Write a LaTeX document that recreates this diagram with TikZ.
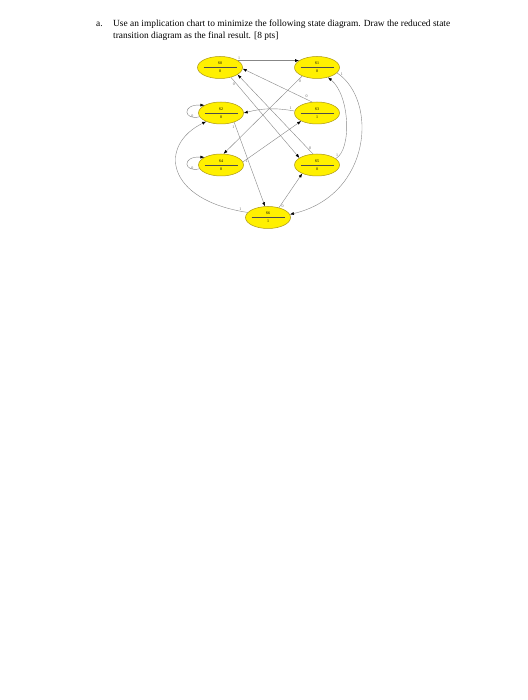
\documentclass[tikz,border=0pt]{standalone}
\usepackage{fontspec}
\setmainfont{Liberation Serif}
\usetikzlibrary{shapes.geometric,arrows.meta}
\definecolor{stfill}{RGB}{255,240,0}
\definecolor{stborder}{RGB}{170,150,20}
\definecolor{edgegray}{RGB}{135,135,135}
\begin{document}
\begin{tikzpicture}[x=1pt,y=-1pt,
  state/.style={ellipse, draw=stborder, line width=0.5pt, fill=stfill,
    minimum width=45pt, minimum height=22pt, inner sep=0pt, align=center,
    font=\fontsize{4}{8}\selectfont,
    path picture={\draw[line width=0.4pt, black!70]
      ([xshift=6pt]path picture bounding box.west) --
      ([xshift=-6pt]path picture bounding box.east);}},
  trans/.style={draw=edgegray, line width=0.4pt,
    -{Latex[length=4pt,width=3pt,color=black]}},
  lbl/.style={font=\fontsize{4}{4}\selectfont, text=black!60, inner sep=0.3pt},
  qtext/.style={anchor=base west, inner sep=0pt, font=\fontsize{9.4}{12}\selectfont}
]
\useasboundingbox[fill=white] (0,0) rectangle (527,700);

\node[qtext] (qa) at (96,27) {a.};
\node[qtext] (q1) at (113,27) {Use an implication chart to minimize the following state diagram. Draw the reduced state};
\node[qtext] (q2) at (113,39) {transition diagram as the final result. [8 pts]};

\node[state] (S0) at (220,67.5) {S0\\0};
\node[state] (S1) at (317,67.5) {S1\\0};
\node[state] (S2) at (221,113) {S2\\0};
\node[state] (S3) at (317,113) {S3\\1};
\node[state] (S4) at (221,165) {S4\\0};
\node[state] (S5) at (317,165) {S5\\0};
\node[state] (S6) at (268,217.5) {S6\\1};

\draw[trans] (S0.21) -- node[lbl,pos=0.02,above=1pt]{1} (S1.159);
\draw[trans] (S0.-42) -- node[lbl,pos=0.08,left=1pt]{0} (S5.158);
\draw[trans] (S5.110) -- node[lbl,pos=0.07,right=1pt]{0} (S0.-22);
\draw[trans] (S3.114) -- node[lbl,pos=0.08,above=1pt]{0} (S0.-3);
\draw[trans] (S1.-150) -- node[lbl,pos=0.06,right=1pt]{0} (S4.77);
\draw[trans] (S3.175) to[bend right=12] node[lbl,pos=0.07,above=0.5pt]{1} (S2.0);
\draw[trans] (S4.8) -- node[lbl,pos=0.02,right=1pt]{1} (S3.-153);
\draw[trans] (S2.-35) -- node[lbl,pos=0.055,left=1pt]{1} (S6.105);
\draw[trans] (S6.42) -- node[lbl,pos=0.05,right=1pt]{0} (S5.-150);
\draw[trans] (S6.166) .. controls (165,200) and (158,145) ..
  node[lbl,pos=0.03,above=0.5pt]{1} (S2.-150);
\draw[trans] (S5.19) .. controls (352,150) and (350,95) ..
  node[lbl,pos=0.03,above=0.5pt]{1} (S1.-42);
\draw[trans] (S1.-15) .. controls (378,100) and (372,195) ..
  node[lbl,pos=0.02,right=1pt]{1} (S6.8);
\draw[trans] (S2.190) .. controls (184,121) and (181,104) ..
  node[lbl,pos=0.3,right=1.5pt]{0} (S2.155);
\draw[trans] (S4.190) .. controls (184,173) and (181,156) ..
  node[lbl,pos=0.3,right=1.5pt]{0} (S4.155);
\end{tikzpicture}
\end{document}
